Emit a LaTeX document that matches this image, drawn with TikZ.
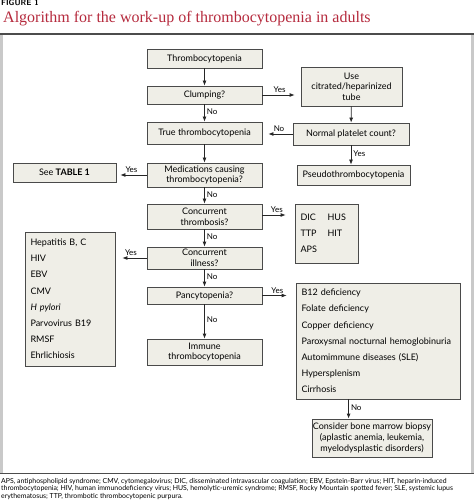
\documentclass[tikz,border=0pt]{standalone}
\usepackage{fontspec}
\setmainfont{Lato}
\newfontfamily\titlefont{Liberation Serif}
\usetikzlibrary{arrows.meta,calc}
\definecolor{boxfill}{HTML}{EFEEE7}
\definecolor{boxline}{HTML}{4A4A4A}
\definecolor{titlered}{HTML}{B52A3D}
\definecolor{framegray}{HTML}{C9C9C9}
\tikzset{
  box/.style={draw=boxline, fill=boxfill, line width=0.8pt, align=center, inner sep=1pt,
    font=\fontsize{9}{10.6}\selectfont},
  listbox/.style={draw=boxline, fill=boxfill, line width=0.8pt, align=left, inner sep=1pt,
    font=\fontsize{9}{16.2}\selectfont},
  arr/.style={draw=black!85, line width=0.8pt, -{Latex[length=5pt,width=4pt]}},
  lbl/.style={font=\fontsize{8}{9}\selectfont, inner sep=2pt},
  foot/.style={font=\fontsize{6.9}{7.5}\selectfont, anchor=base west, inner sep=0pt}
}
\begin{document}
\begin{tikzpicture}[x=1pt,y=-1pt]
\useasboundingbox (0,0) rectangle (474,502);
% frame
\fill[framegray] (0,34) rectangle (3,473);
\fill[framegray] (471,34) rectangle (474,473);
\draw[black!70, line width=1.3pt] (0,34) -- (474,34);
\draw[black!70, line width=0.9pt] (0,473) -- (474,473);
% heading
\node[anchor=base west, inner sep=0pt, font=\sffamily\bfseries\fontsize{8}{9}\selectfont] (fig) at (1,6) {FIGURE 1};
\node[anchor=base west, inner sep=0pt, text=titlered, font=\titlefont\fontsize{16}{18}\selectfont] (title) at (3,23) {Algorithm for the work-up of thrombocytopenia in adults};
% main column
\node[box, minimum width=115pt, minimum height=19pt] (t1) at (204.5,58.5) {Thrombocytopenia};
\node[box, minimum width=115pt, minimum height=18pt] (clump) at (204.5,95) {Clumping?};
\node[box, minimum width=115pt, minimum height=22pt] (true) at (204.5,133) {True thrombocytopenia};
\node[box, minimum width=115pt, minimum height=24pt] (meds) at (204.5,175) {Medications causing\\thrombocytopenia?};
\node[box, minimum width=115pt, minimum height=25pt] (thromb) at (204.5,216.5) {Concurrent\\thrombosis?};
\node[box, minimum width=115pt, minimum height=22pt] (ill) at (204.5,258) {Concurrent\\illness?};
\node[box, minimum width=115pt, minimum height=17pt] (pancy) at (204.5,295.5) {Pancytopenia?};
\node[box, minimum width=115pt, minimum height=26pt] (immune) at (204.5,352) {Immune\\thrombocytopenia};
% right column
\node[box, minimum width=101pt, minimum height=39pt] (tube) at (351.5,86.5) {Use\\citrated/heparinized\\tube};
\node[box, minimum width=116pt, minimum height=22pt] (normal) at (351,134) {Normal platelet count?};
\node[box, minimum width=113pt, minimum height=20pt] (pseudo) at (353.5,175) {Pseudothrombocytopenia};
\node[listbox, minimum width=63pt, minimum height=59pt, text width=52pt, inner xsep=5.5pt] (dic) at (326.5,233.5)
  {\makebox[27pt][l]{DIC}HUS\\\makebox[27pt][l]{TTP}HIT\\APS};
\node[listbox, minimum width=164pt, minimum height=116pt, text width=153pt, inner xsep=5.5pt] (b12) at (378,341)
  {B12 deficiency\\Folate deficiency\\Copper deficiency\\Paroxysmal nocturnal hemoglobinuria\\Automimmune diseases (SLE)\\Hypersplenism\\Cirrhosis};
\node[box, minimum width=120pt, minimum height=38pt] (marrow) at (372,438) {Consider bone marrow biopsy\\(aplastic anemia, leukemia,\\myelodysplastic disorders)};
% left column
\node[box, minimum width=103pt, minimum height=19pt] (table) at (64.5,172.5) {See \textbf{TABLE 1}};
\node[listbox, minimum width=90pt, minimum height=134pt, text width=79pt, inner xsep=5.5pt] (hep) at (70,299)
  {Hepatitis B, C\\HIV\\EBV\\CMV\\\textit{H pylori}\\Parvovirus B19\\RMSF\\Ehrlichiosis};
% connectors
\draw[arr] (t1) -- (clump);
\draw[arr] (clump) -- node[lbl, right, pos=0.45] {No} (true);
\draw[arr, shorten >=6pt] (clump.east) -- node[lbl, above, pos=0.45] {Yes} (clump.east -| tube.west);
\draw[arr] (tube) -- (normal);
\draw[arr, shorten >=6pt] (normal.west) -- node[lbl, above, pos=0.45] {No} (normal.west -| true.east);
\draw[arr] (normal.south) -- node[lbl, right, pos=0.45] {Yes} (normal.south |- pseudo.north);
\draw[arr] (true) -- (meds);
\draw[arr, shorten >=4pt] (meds.west) -- node[lbl, above, pos=0.5] {Yes} (meds.west -| table.east);
\draw[arr] (meds) -- node[lbl, right, pos=0.45] {No} (thromb);
\draw[arr, shorten >=9pt] ([yshift=1.5pt]thromb.east) -- node[lbl, above, pos=0.45] {Yes} ([yshift=1.5pt]thromb.east -| dic.west);
\draw[arr] (thromb) -- node[lbl, right, pos=0.45] {No} (ill);
\draw[arr, shorten >=7pt] (ill.west) -- node[lbl, above, pos=0.5] {Yes} (ill.west -| hep.east);
\draw[arr] (ill) -- node[lbl, right, pos=0.45] {No} (pancy);
\draw[arr, shorten >=9pt] (pancy.east) -- node[lbl, above, pos=0.45] {Yes} (pancy.east -| b12.west);
\draw[arr] (pancy) -- node[lbl, right, pos=0.45] {No} (immune);
\draw[arr] ([xshift=53pt]b12.south west) -- node[lbl, right, pos=0.45] {No} ([xshift=53pt]b12.south west |- marrow.north);
% footnote
\node[foot] (f1) at (1,483) {APS, antiphospholipid syndrome; CMV, cytomegalovirus; DIC, disseminated intravascular coagulation; EBV, Epstein-Barr virus; HIT, heparin-induced};
\node[foot] (f2) at (1,490.5) {thrombocytopenia; HIV, human immunodeficiency virus; HUS, hemolytic-uremic syndrome; RMSF, Rocky Mountain spotted fever; SLE, systemic lupus};
\node[foot] (f3) at (1,498) {erythematosus; TTP, thrombotic thrombocytopenic purpura.};
\end{tikzpicture}
\end{document}
